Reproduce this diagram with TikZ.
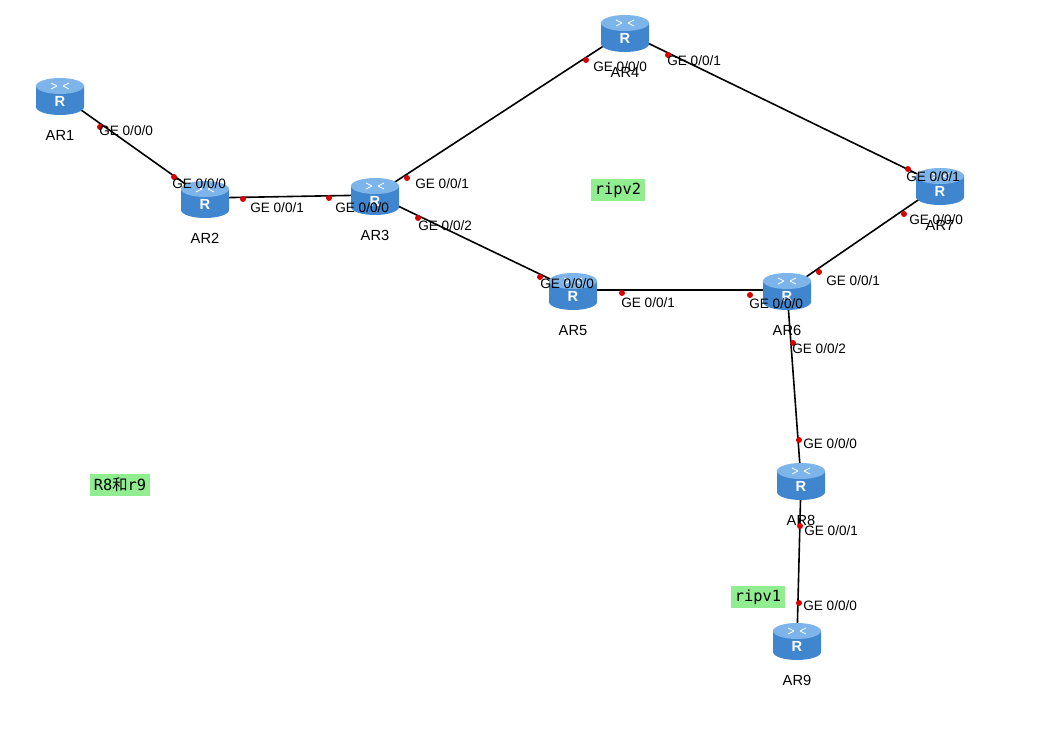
\documentclass[tikz,border=0pt]{standalone}
\usepackage{fontspec}
\setmainfont{Liberation Sans}
\newfontfamily\mymono{DejaVu Sans Mono}
\newfontfamily\cjk{Noto Sans CJK SC}
\definecolor{rbody}{HTML}{3F86CF}
\definecolor{rtop}{HTML}{7DB4EA}
\definecolor{tagg}{HTML}{90EE90}
\begin{document}
\begin{tikzpicture}[x=0.75pt,y=-0.75pt,
  router/.style={circle,minimum size=30pt,inner sep=0pt},
  rname/.style={font=\fontsize{11}{12}\selectfont,anchor=north},
  port/.style={font=\fontsize{10.2}{11}\selectfont,anchor=west,inner sep=0pt},
  dot/.style={circle,fill=red!85!black,inner sep=0pt,minimum size=4.5pt},
  link/.style={line width=1.2pt,black},
  tag/.style={fill=tagg,font=\mymono\fontsize{11.5}{13}\selectfont,inner sep=3pt}]
\useasboundingbox (0,0) rectangle (1061,731);
\coordinate (p1) at (60,95);
\coordinate (p2) at (205,198);
\coordinate (p3) at (375,195);
\coordinate (p4) at (625,32);
\coordinate (p5) at (573,290);
\coordinate (p6) at (787,290);
\coordinate (p7) at (940,185);
\coordinate (p8) at (801,480);
\coordinate (p9) at (797,640);
% links
\draw[link] (p1)--(p2) (p2)--(p3) (p3)--(p4) (p4)--(p7) (p3)--(p5) (p5)--(p6) (p6)--(p7) (p6)--(p8) (p8)--(p9);
\foreach \n/\p in {AR1/p1,AR2/p2,AR3/p3,AR4/p4,AR5/p5,AR6/p6,AR7/p7,AR8/p8,AR9/p9}{
  \node[router] (\n) at (\p) {};
  \begin{scope}[shift={(\p)}]
    \fill[rbody] (-24,-9) -- (-24,12) arc[start angle=180,end angle=0,x radius=24,y radius=8] -- (24,-9) -- cycle;
    \fill[rtop] (0,-9) ellipse[x radius=24,y radius=8];
    \draw[white,line width=0.6pt] (-9,-12)--(-3,-9) (9,-12)--(3,-9) (-9,-6)--(-3,-9) (9,-6)--(3,-9);
    \node[white,font=\bfseries\fontsize{11}{12}\selectfont] at (0,6) {R};
  \end{scope}
  \node[rname] at ([yshift=-23pt]\n.center) {\n};
}
% dots
\foreach \x/\y in {100/127,174/177,243/199,329/198,407/178,586/60,668/55,908/169,418/218,540/277,622/293,750/295,819/272,904/214,793/343,799/440,800/526,799/603}
  \node[dot] at (\x,\y) {};
% port labels
\foreach \x/\y/\t in {99/131/{GE 0/0/0},172/184/{GE 0/0/0},250/208/{GE 0/0/1},335/208/{GE 0/0/0},415/184/{GE 0/0/1},593/67/{GE 0/0/0},667/61/{GE 0/0/1},906/177/{GE 0/0/1},418/226/{GE 0/0/2},540/284/{GE 0/0/0},621/303/{GE 0/0/1},749/304/{GE 0/0/0},826/281/{GE 0/0/1},909/220/{GE 0/0/0},792/349/{GE 0/0/2},803/444/{GE 0/0/0},804/531/{GE 0/0/1},803/606/{GE 0/0/0}}
  \node[port] at (\x,\y) {\t};
\node[tag] (t1) at (618,190) {ripv2};
\node[tag] (t2) at (120,485) {R8{\cjk 和}r9};
\node[tag] (t3) at (758,597) {ripv1};
\end{tikzpicture}
\end{document}
